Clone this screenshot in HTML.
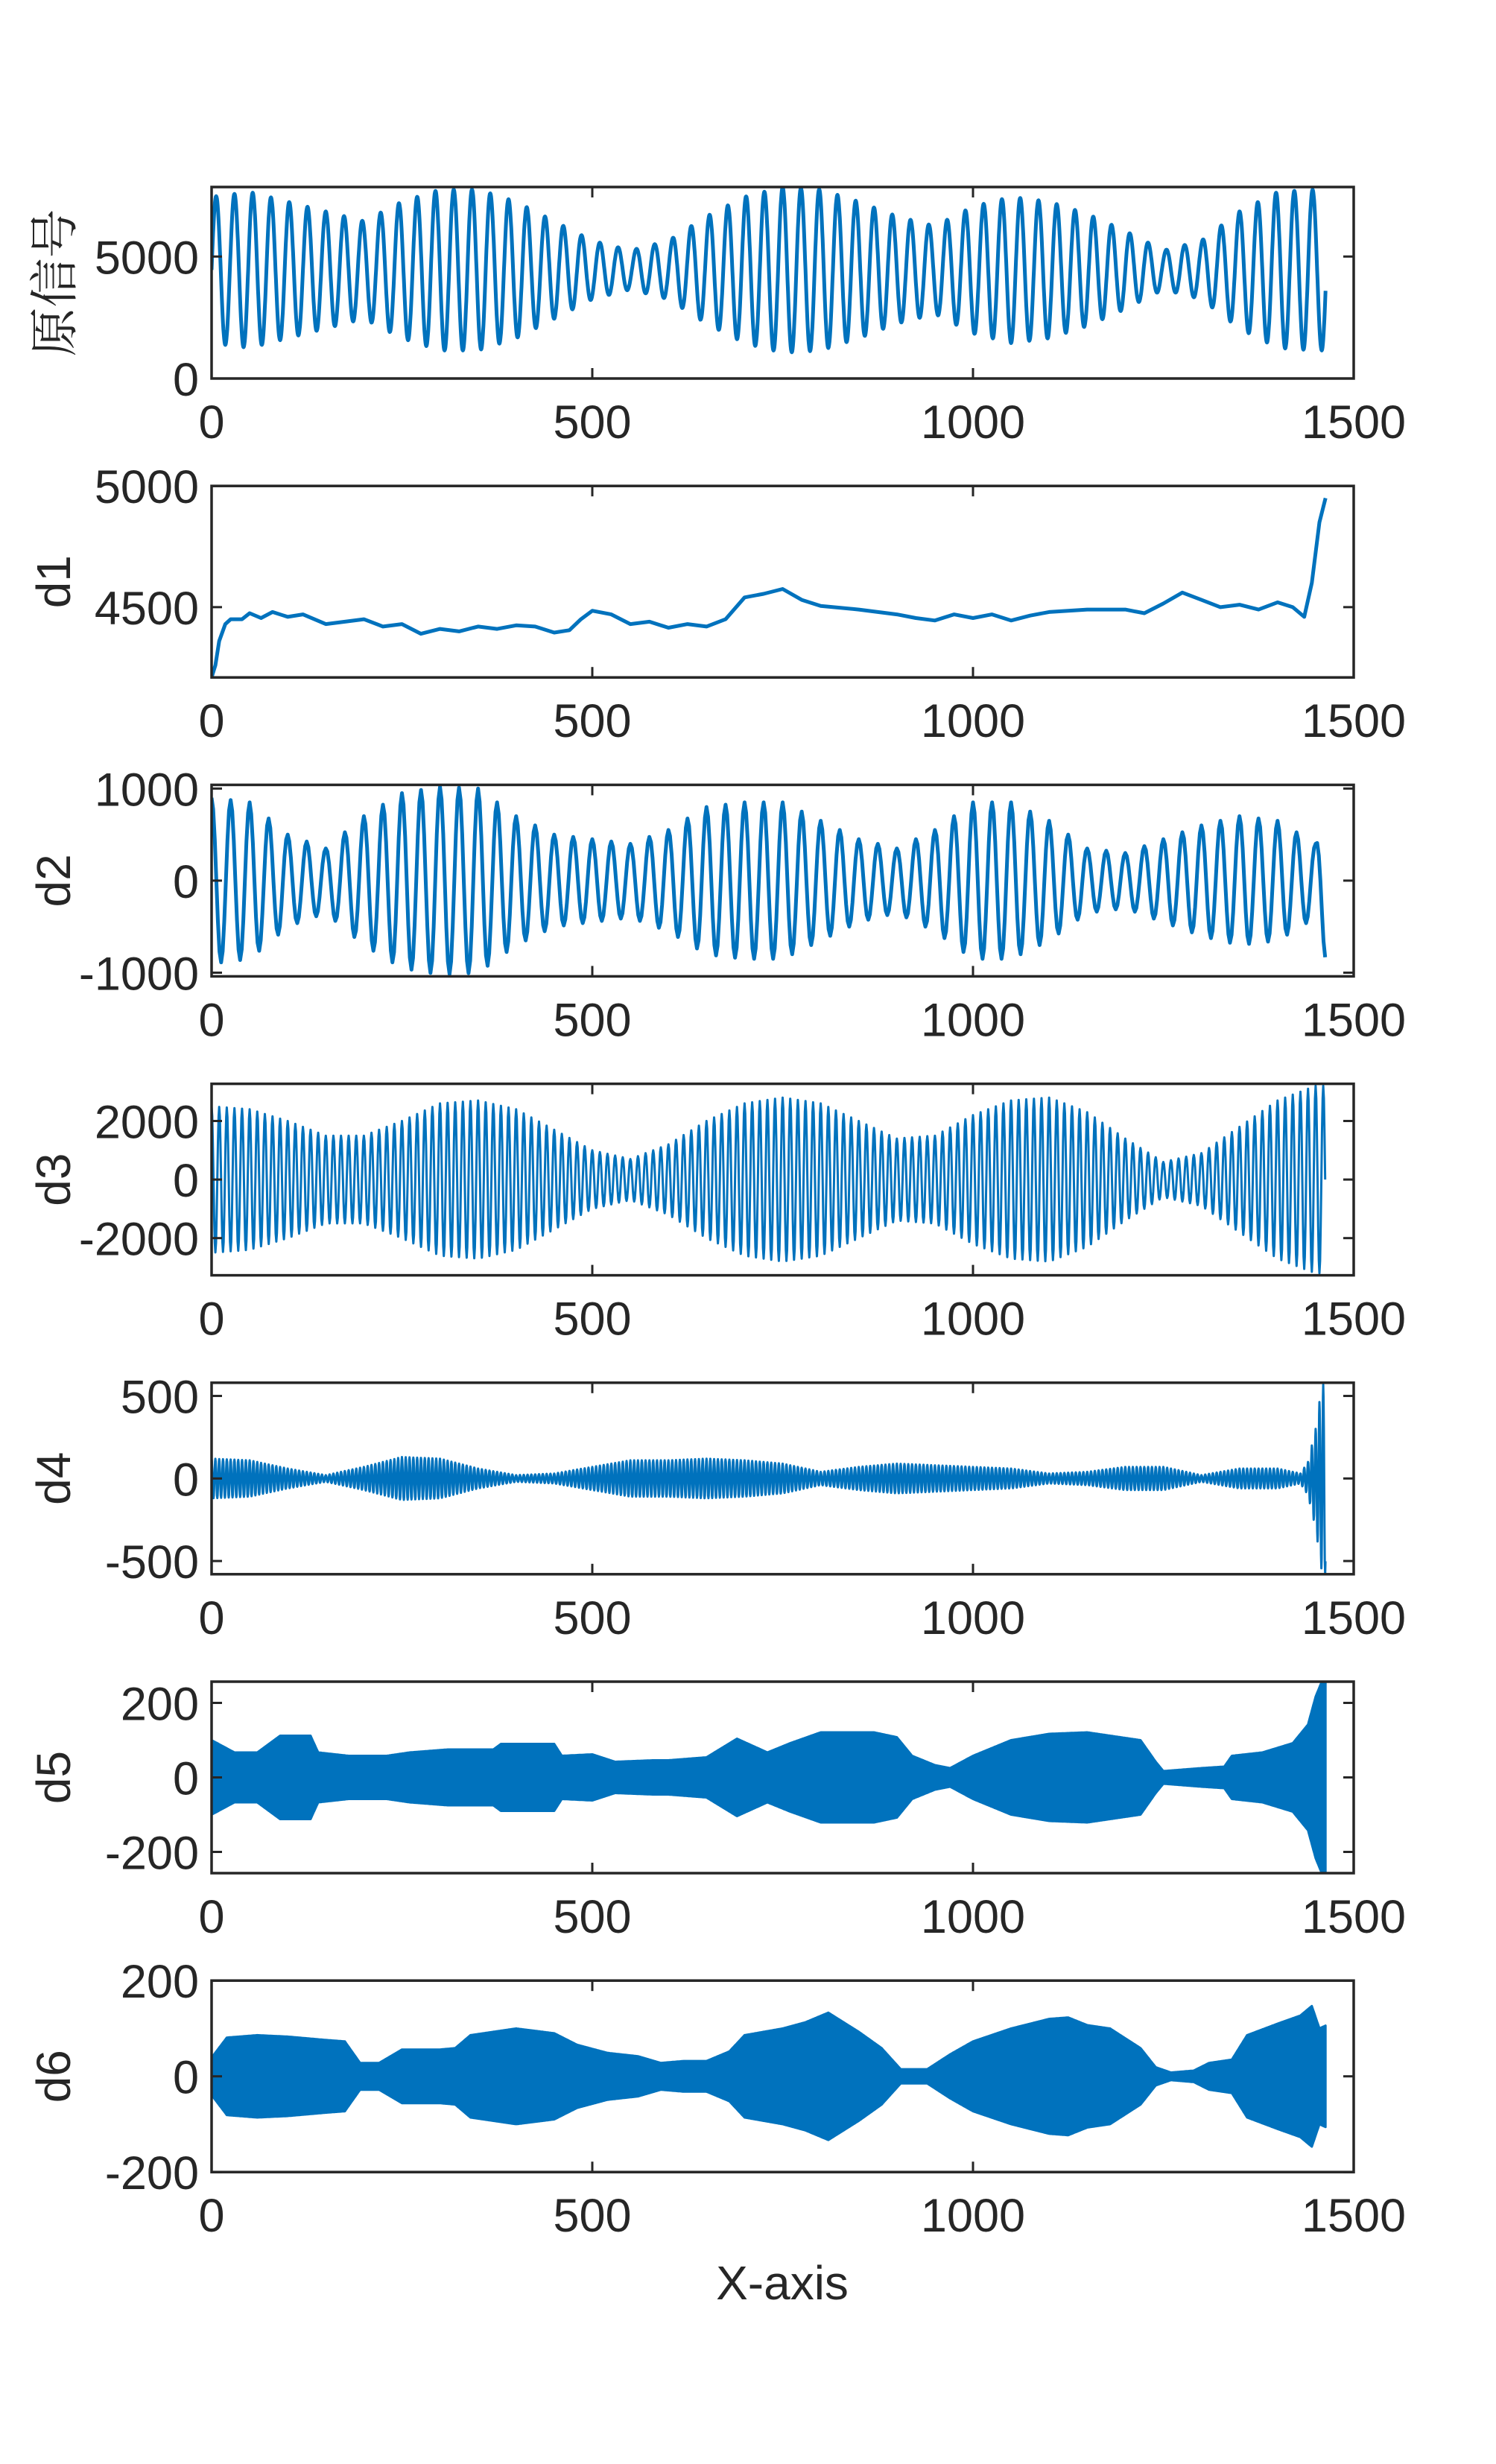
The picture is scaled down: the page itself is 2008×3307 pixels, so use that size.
<!DOCTYPE html>
<html><head><meta charset="utf-8">
<style>
html,body{margin:0;padding:0;background:#fff;}
svg{display:block;}
text{font-family:"Liberation Sans",Arial,sans-serif;fill:#262626;}
</style></head>
<body>
<svg id="fig" width="2008" height="3307" viewBox="0 0 2008 3307" xmlns="http://www.w3.org/2000/svg">
<rect width="2008" height="3307" fill="#fff"/>
<text x="1050" y="3086" font-size="64" text-anchor="middle">X-axis</text>
</svg>
<script>
// shared x axis
const xTicks = [0, 500, 1000, 1500];
const xEnd = 1463;

// envelope sample positions (x units)
const envX = [0,50,100,150,200,250,300,350,400,450,500,550,600,650,700,750,800,850,900,950,1000,1050,1100,1150,1200,1250,1300,1350,1400,1450,1463];

// 原信号 : amplitude envelope around centre
const sigAmp = [3000,3200,2800,2400,2000,2800,3300,3300,2800,2000,1200,800,1200,2200,3000,3400,3300,2800,2200,1800,2600,3000,2800,2300,1600,800,1200,2400,3200,3300,3300];
const sigCenter = 4450;
const sigPeriod = 24;

// d1 : trend line values
const d1X = [0,5,10,18,25,40,50,65,80,100,120,150,175,200,225,250,275,300,325,350,375,400,425,450,470,485,500,525,550,575,600,625,650,675,700,725,750,775,800,850,900,925,950,975,1000,1025,1050,1075,1100,1150,1200,1225,1250,1275,1300,1325,1350,1375,1400,1420,1435,1445,1455,1463];
const d1Y = [4210,4260,4360,4430,4450,4450,4475,4455,4480,4460,4470,4430,4440,4450,4420,4430,4390,4410,4400,4420,4410,4425,4420,4395,4405,4450,4485,4470,4430,4440,4415,4430,4420,4450,4540,4555,4575,4530,4505,4490,4470,4455,4445,4470,4455,4470,4445,4465,4480,4490,4490,4475,4515,4560,4530,4500,4510,4490,4520,4500,4460,4600,4850,4950];

// d2
const d2Amp = [900,850,500,350,700,950,1020,1000,700,500,450,400,550,800,850,850,650,450,350,550,850,850,650,350,300,450,600,700,650,400,850];
const d2Period = 25;
// d3
const d3Amp = [2500,2400,2000,1500,1500,2000,2600,2700,2400,1700,1000,700,1200,2000,2600,2800,2600,2000,1400,1500,2200,2700,2800,2300,1400,600,900,1800,2700,3200,3200];
const d3Period = 10;
// d4
const d4X = [0,50,100,150,200,250,300,350,400,450,500,550,600,650,700,750,800,850,900,950,1000,1050,1100,1150,1200,1250,1300,1350,1400,1430,1440,1450,1458,1463];
const d4Amp = [120,110,60,20,70,130,120,60,20,30,70,110,110,120,110,90,40,70,90,80,70,60,30,40,70,70,20,60,60,30,100,300,560,580];
const d4Period = 5;
// d5 (filled band)
const d5X = [0,30,60,90,130,140,180,230,260,310,370,380,450,460,500,530,580,600,650,690,730,760,800,870,900,920,950,970,1000,1050,1100,1150,1220,1240,1250,1300,1330,1340,1380,1420,1440,1450,1458,1463];
const d5Amp = [100,67,67,112,112,67,58,58,67,75,75,90,90,58,62,42,46,46,54,104,67,92,121,121,108,58,33,25,58,100,117,121,100,42,17,25,29,58,67,92,142,217,257,257];
// d6 (filled band)
const d6X = [0,20,60,100,150,175,195,220,250,300,320,340,400,450,480,520,560,590,620,650,680,700,750,780,810,850,880,905,940,970,1000,1050,1100,1125,1150,1180,1220,1240,1260,1290,1310,1340,1360,1400,1430,1445,1455,1463];
const d6Amp = [39,81,86,83,76,73,28,28,56,56,59,86,100,90,66,49,42,28,32,32,52,86,100,113,133,93,59,15,15,46,73,100,120,123,107,100,59,19,8,12,28,35,86,110,127,147,100,106];

const panels = [
  {name:'original-signal', label:'原信号', cjk:true, ymin:0, ymax:7850, ticks:[0,5000], tickLabels:['0','5000']},
  {name:'d1', label:'d1', ymin:4210, ymax:5000, ticks:[4500,5000], tickLabels:['4500','5000']},
  {name:'d2', label:'d2', ymin:-1040, ymax:1040, ticks:[-1000,0,1000], tickLabels:['-1000','0','1000']},
  {name:'d3', label:'d3', ymin:-3270, ymax:3270, ticks:[-2000,0,2000], tickLabels:['-2000','0','2000']},
  {name:'d4', label:'d4', ymin:-580, ymax:580, ticks:[-500,0,500], tickLabels:['-500','0','500']},
  {name:'d5', label:'d5', ymin:-257, ymax:257, ticks:[-200,0,200], tickLabels:['-200','0','200']},
  {name:'d6', label:'d6', ymin:-200, ymax:200, ticks:[-200,0,200], tickLabels:['-200','0','200']}
];

const NS='http://www.w3.org/2000/svg';
const svg=document.getElementById('fig');
const L=284, R=1817, TOP0=251, STEP=401.2, H=257;
const COLOR='#0072BD';
function el(tag,attrs,parent){const e=document.createElementNS(NS,tag);for(const k in attrs)e.setAttribute(k,attrs[k]);(parent||svg).appendChild(e);return e;}
function interp(xs,ys,x){if(x<=xs[0])return ys[0];for(let i=1;i<xs.length;i++){if(x<=xs[i]){const t=(x-xs[i-1])/(xs[i]-xs[i-1]);return ys[i-1]+t*(ys[i]-ys[i-1]);}}return ys[ys.length-1];}

panels.forEach((p,i)=>{
  const top=TOP0+STEP*i, bot=top+H;
  const sx=v=>L+(v-0)/(1500-0)*(R-L);
  const sy=v=>bot-(v-p.ymin)/(p.ymax-p.ymin)*H;
  const g=el('g',{});
  
  
  const clipId='clip'+i;
  const cp=el('clipPath',{id:clipId},g);
  el('rect',{x:L,y:top,width:R-L,height:H},cp);
  const dg=el('g',{'clip-path':'url(#'+clipId+')'},g);
  let d='';
  if(p.name==='original-signal'){
    for(let x=0;x<=xEnd;x+=0.5){const v=sigCenter+interp(envX,sigAmp,x)*Math.sin(2*Math.PI*x/sigPeriod);d+=(x===0?'M':'L')+sx(x).toFixed(1)+','+sy(v).toFixed(1);}
  } else if(p.name==='d1'){
    for(let k=0;k<d1X.length;k++){d+=(k===0?'M':'L')+sx(d1X[k]).toFixed(1)+','+sy(d1Y[k]).toFixed(1);}
  } else if(p.name==='d2'||p.name==='d3'||p.name==='d4'){
    const ax=p.name==='d4'?d4X:envX;
    const amp=p.name==='d2'?d2Amp:p.name==='d3'?d3Amp:d4Amp;
    const per=p.name==='d2'?d2Period:p.name==='d3'?d3Period:d4Period;
    const st=per/12;
    for(let x=0;x<=xEnd;x+=st){const v=interp(ax,amp,x)*Math.cos(2*Math.PI*x/per);d+=(x===0?'M':'L')+sx(x).toFixed(1)+','+sy(v).toFixed(1);}
  } else {
    const ax=p.name==='d5'?d5X:d6X;
    const amp=p.name==='d5'?d5Amp:d6Amp;
    let up='',lo='';
    for(let x=0;x<=xEnd;x+=1){up+=(x===0?'M':'L')+sx(x).toFixed(1)+','+sy(interp(ax,amp,x)).toFixed(1);}
    for(let x=xEnd;x>=0;x-=1){lo+='L'+sx(x).toFixed(1)+','+sy(-interp(ax,amp,x)).toFixed(1);}
    d=up+lo+'Z';
  }
  const isFill=(p.name==='d5'||p.name==='d6');
  const path=el('path',{d:d,fill:isFill?COLOR:'none',stroke:COLOR,'stroke-width':isFill?3:(p.name==='d3'||p.name==='d4'?3:5),'stroke-linejoin':'round'},dg);
  
  
  const box=el('rect',{x:L,y:top,width:R-L,height:H,fill:'none',stroke:'#262626','stroke-width':3.5},g);
  
  
  xTicks.forEach(t=>{
    const x=sx(t);
    el('line',{x1:x,y1:bot,x2:x,y2:bot-14,stroke:'#262626','stroke-width':3},g);
    el('line',{x1:x,y1:top,x2:x,y2:top+14,stroke:'#262626','stroke-width':3},g);
    const tl=el('text',{x:x,y:bot+80,'font-size':63,'text-anchor':'middle'},g);
    tl.textContent=String(t);
    
    
  });
  p.ticks.forEach((t,k)=>{
    const y=sy(t);
    el('line',{x1:L,y1:y,x2:L+14,y2:y,stroke:'#262626','stroke-width':3},g);
    el('line',{x1:R,y1:y,x2:R-14,y2:y,stroke:'#262626','stroke-width':3},g);
    const tl=el('text',{x:267,y:y+23,'font-size':63,'text-anchor':'end'},g);
    tl.textContent=p.tickLabels[k];
    
    
  });
  const cy=top+H/2;
  const yl=el('text',{x:0,y:0,'font-size':p.cjk?66:64,'text-anchor':'middle',transform:'translate('+(p.cjk?96:94)+','+cy+') rotate(-90)'},g);
  if(p.cjk) yl.setAttribute('style','font-family:"Liberation Serif","Noto Serif CJK SC",serif');
  yl.textContent=p.label;
  
  
});
</script>
</body></html>
